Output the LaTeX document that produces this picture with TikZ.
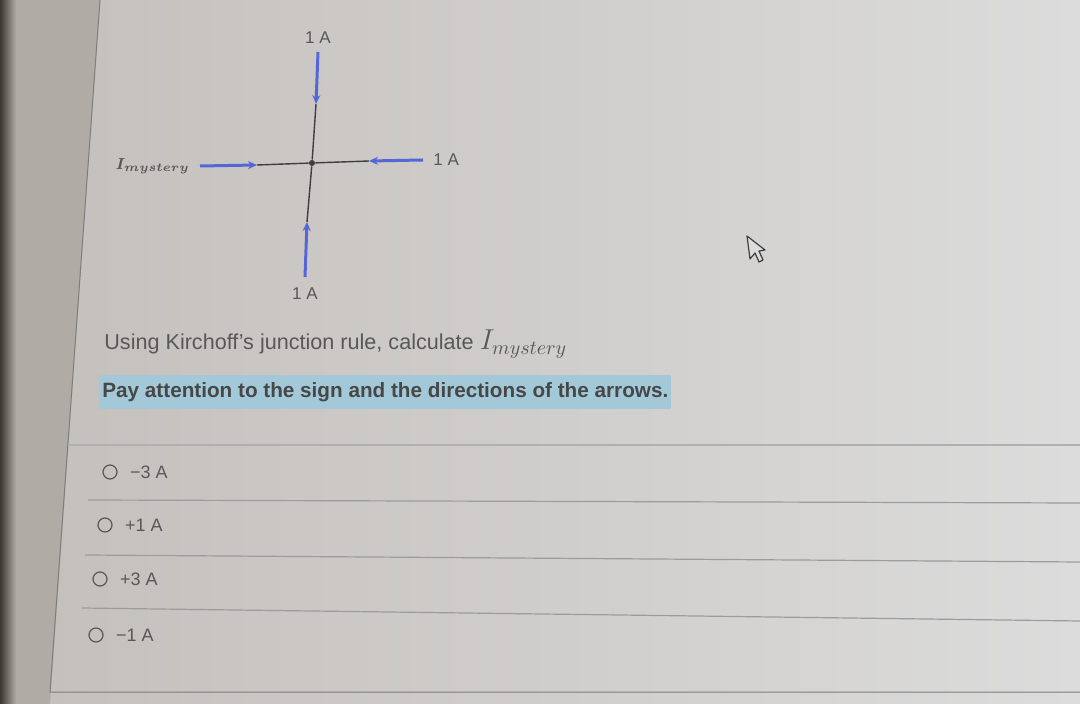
\documentclass[tikz,border=0pt]{standalone}
\usepackage{amsmath}
\usepackage{fontspec}
\setmainfont{Liberation Sans}
\usetikzlibrary{positioning, arrows.meta}
\definecolor{bezel}{HTML}{3A3631}
\definecolor{sidegray}{HTML}{B0ABA5}
\definecolor{cardleft}{HTML}{C3BFBB}
\definecolor{cardright}{HTML}{DCDCDC}
\definecolor{flowblue}{HTML}{5567D6}
\definecolor{wirecol}{HTML}{3E3E3E}
\definecolor{labelgray}{HTML}{585858}
\definecolor{hilite}{HTML}{A3C9D8}
\definecolor{rule}{HTML}{9C9C9C}

\begin{document}
\begin{tikzpicture}[x=0.5pt, y=-0.5pt,
  flow/.style={flowblue, line width=1.5pt, -{Stealth[length=4.5pt,width=4pt]}},
  wire/.style={wirecol, line width=0.7pt},
  lbl/.style={labelgray, font=\fontsize{8.5}{10}\selectfont, inner sep=1pt},
  radio/.style={circle, draw=labelgray, line width=0.6pt, minimum size=7pt, inner sep=0pt},
  optlbl/.style={labelgray, font=\fontsize{9}{11}\selectfont, inner sep=1pt}
]
  \useasboundingbox (0,0) rectangle (1080,704);

  % Screen background
  \shade[left color=cardleft, right color=cardright] (0,0) rectangle (1080,704);
  \fill[sidegray] (0,0) -- (100,0) -- (50,704) -- (0,704) -- cycle;
  \shade[left color=bezel, right color=sidegray] (0,0) rectangle (16,704);
  \draw[rule!80!black, line width=0.5pt] (100,0) -- (50,692) -- (1080,692);

  % Answer separators
  \draw[rule!80, line width=0.6pt] (68,445) -- (1080,445);
  \draw[rule, line width=0.6pt] (88,500) -- (1080,503);
  \draw[rule, line width=0.6pt] (85,555) -- (1080,562);
  \draw[rule, line width=0.6pt] (82,608) -- (1080,621);

  % Junction
  \node[circle, fill=wirecol, inner sep=0pt, minimum size=3pt] (J) at (312,163) {};
  \coordinate (topEnd) at (318,52);
  \coordinate (topTip) at (316,104);
  \coordinate (botEnd) at (305,277);
  \coordinate (botTip) at (307,222);
  \coordinate (leftEnd) at (200,166);
  \coordinate (leftTip) at (257,165);
  \coordinate (rightEnd) at (423,160);
  \coordinate (rightTip) at (369,161);

  \draw[wire] (topTip) -- (J) -- (botTip);
  \draw[wire] (leftTip) -- (J) -- (rightTip);

  % Currents into the junction
  \draw[flow] (topEnd) -- (topTip);
  \draw[flow] (botEnd) -- (botTip);
  \draw[flow] (leftEnd) -- (leftTip);
  \draw[flow] (rightEnd) -- (rightTip);

  % Current labels
  \node[lbl, above=3pt of topEnd] (topLbl) {1 A};
  \node[lbl, right=4pt of rightEnd] (rightLbl) {1 A};
  \node[lbl, below=4pt of botEnd] (botLbl) {1 A};
  \node[lbl, left=4pt of leftEnd] (leftLbl) {$\boldsymbol{I_{mystery}}$};

  % Question
  \node[labelgray, font=\fontsize{10.8}{13}\selectfont, anchor=base west, inner sep=0pt] (question) at (104,350)
    {Using Kirchoff's junction rule, calculate \Large$I_{mystery}$};
  \node[fill=hilite, text=black!72, font=\bfseries\fontsize{10.35}{12}\selectfont, anchor=west,
        inner xsep=1.5pt, inner ysep=3.5pt] (note) at (99,392)
    {Pay attention to the sign and the directions of the arrows.};

  % Answer choices
  \foreach \x/\y/\t [count=\i] in {110/472/{−3 A}, 105/525/{+1 A}, 100/579/{+3 A}, 96/635/{−1 A}} {
    \node[radio] (r\i) at (\x,\y) {};
    \node[optlbl, right=5pt of r\i] (o\i) {\t};
  }

  % Mouse pointer
  \filldraw[fill=cardright, draw=wirecol, line width=0.6pt, line join=round]
    (747,236) -- (750,259) -- (755,253) -- (759,262) -- (763,260) -- (759,251) -- (765,250) -- cycle;
\end{tikzpicture}
\end{document}
